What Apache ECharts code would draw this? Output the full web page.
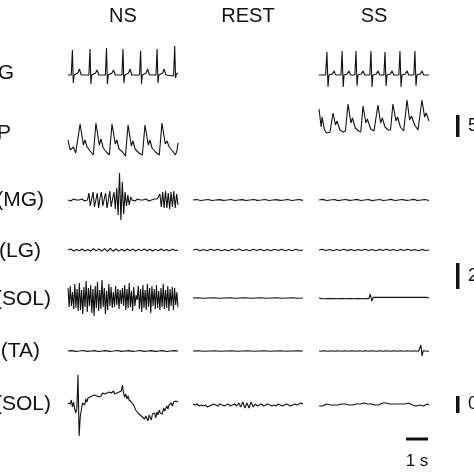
<!DOCTYPE html>
<html><head><meta charset="utf-8">
<script src="https://cdn.jsdelivr.net/npm/echarts@6/dist/echarts.min.js"></script>
<style>html,body{margin:0;padding:0;background:#fff}#c{width:474px;height:474px}</style>
</head><body><div id="c"></div>
<script>
const conditions = ['NS','REST','SS'];
const rowLabels = ['ECG','BP','EMG (MG)','EMG (LG)','EMG (SOL)','EMG (TA)','MMG (SOL)'];
const scaleLabels = ['50 mmHg','2 mV','0.5 V'];
const timeLabel = '1 s';

const ecgNS = [[0,0],[0.15,0],[0.2,25],[0.24,-8],[0.28,0],[0.45,2],[0.52,6],[0.6,0],
[0.95,0],[1.0,26],[1.04,-9],[1.08,0],[1.25,2],[1.32,5],[1.4,0],
[1.7,0],[1.75,27],[1.79,-9],[1.83,0],[2.0,2],[2.07,5],[2.15,0],
[2.45,0],[2.5,26],[2.54,-8],[2.58,0],[2.75,2],[2.82,6],[2.9,0],
[3.25,0],[3.3,24],[3.34,-9],[3.38,0],[3.55,2],[3.62,6],[3.7,0],
[4.0,0],[4.05,26],[4.09,-8],[4.13,0],[4.3,2],[4.37,6],[4.45,0],
[4.8,-1],[4.85,29],[4.89,-3],[4.93,1],[5.0,2]];
const ecgSS = [[0,0],[0.3,0],[0.36,23],[0.41,-12],[0.45,0],[0.6,1],[0.68,4],[0.76,0],
[1.0,0],[1.05,24],[1.1,-12],[1.14,0],[1.28,1],[1.36,4],[1.44,0],
[1.63,0],[1.68,24],[1.73,-11],[1.77,0],[1.92,1],[2.0,4],[2.08,0],
[2.31,0],[2.36,24],[2.41,-12],[2.45,0],[2.6,1],[2.68,4],[2.76,0],
[2.95,0],[3.0,23],[3.05,-11],[3.09,0],[3.24,1],[3.32,4],[3.4,0],
[3.63,0],[3.68,24],[3.73,-12],[3.77,0],[3.92,1],[4.0,4],[4.08,0],
[4.31,0],[4.36,24],[4.41,-11],[4.45,0],[4.6,1],[4.68,4],[4.76,0],[5.0,0]];
const bpNS = [[0,25],[0.1,15],[0.25,18],[0.35,12],[0.43,10],[0.55,41],[0.7,20],[0.77,25],[0.87,18],[1.0,14],[1.15,10],[1.27,42],[1.42,20],[1.5,26],[1.6,17],[1.75,13],[1.88,10],[2.0,41],[2.15,21],[2.22,25],[2.32,16],[2.48,13],[2.61,9],[2.73,40],[2.88,19],[2.95,24],[3.05,16],[3.22,12],[3.38,10],[3.5,40],[3.65,20],[3.72,25],[3.82,17],[3.98,13],[4.15,10],[4.27,42],[4.42,21],[4.5,24],[4.6,18],[4.75,14],[4.88,10],[4.95,14],[5.0,22]];
const bpSS = [[0,56],[0.1,38],[0.14,48],[0.25,35],[0.35,32],[0.5,33],[0.64,52],[0.75,40],[0.82,44],[0.95,35],[1.1,33],[1.2,34],[1.32,61],[1.45,42],[1.52,47],[1.65,37],[1.8,34],[1.9,33],[2.0,59],[2.13,42],[2.2,46],[2.35,36],[2.5,34],[2.58,34],[2.68,60],[2.8,42],[2.88,47],[3.0,38],[3.15,35],[3.25,35],[3.36,61],[3.5,44],[3.57,48],[3.7,38],[3.85,34],[3.92,35],[4.0,65],[4.12,45],[4.2,49],[4.35,40],[4.5,35],[4.58,36],[4.68,65],[4.8,48],[4.87,52],[5.0,44]];
const mgNS = [0,1,-1,0,1,-1,0,1,0,-1,1,0,-1,1,0,7,-6,1,8,-7,0,7,-8,2,8,-6,1,7,-8,0,9,-7,1,8,-9,12,-15,27,-20,18,-14,8,-6,5,-5,3,0,1,-1,0,1,-1,0,1,0,-1,1,0,-1,1,0,-1,1,0,1,-1,6,-7,8,-8,9,-8,7,-9,8,-7,9,-8,6,-5];
const mgREST = [0,0.5,-0.5,0,0.5,-0.5,0,0.4,-0.4,0,0.5,-0.5,0,0.4,-0.5,0,0.5,-0.4,0,0.5,-0.5,0,0.4,-0.4,0,0.5,-0.5,0,0.5,-0.4];
const mgSS = [0,0.6,-0.5,0,0.5,-0.6,0,0.5,-0.4,0,0.6,-0.5,0,0.5,-0.6,0,0.5,-0.5,0,0.6,-0.5,0,0.5,-0.4,0,0.6,-0.5,0,0.5,-0.5];
const lgNS = [0,1,-1,0.5,-0.8,1,-1,0.6,-1,1.2,-0.9,1,-1.2,1.4,-1.3,1.5,-1.2,1,-1.1,0.8,-1,1,-0.7,0.9,-1,0.8,-0.9,1,-0.8,0.7,-1,0.9,-0.8,1,-0.7,0.6,-0.9,0.8,-0.6,0];
const lgREST = [0,0.8,-0.7,0.6,-0.8,0.7,-0.6,0.8,-0.7,0.5,-0.8,0.7,-0.6,0.9,-0.7,0.6,-0.8,0.7,-0.6,0.8,-0.7,0.6,-0.8,0.7,-0.6,0.8,-0.7,0.6,-0.8,0.7,-0.5,0];
const lgSS = [0,0.7,-0.6,0.6,-0.7,0.6,-0.6,0.7,-0.6,0.5,-0.7,0.6,-0.6,0.7,-0.6,0.6,-0.7,0.6,-0.5,0.7,-0.6,0.6,-0.7,0.6,-0.6,0.7,-0.6,0.5,-0.7,0.6,-0.5,0];
const solNS = [10,-9,12,-8,6,-11,14,-10,9,-13,15,-12,8,-16,11,-9,17,-14,10,-8,13,-15,9,-18,12,-10,16,-13,8,-11,18,-9,10,-16,7,-12,14,-8,11,-10,6,-9,12,-7,9,-11,8,-6,10,-8,13,-12,9,-10,15,-9,7,-13,11,-8,3,-2,12,-11,9,-14,13,-10,8,-12,14,-9,10,-15,12,-8,9,-11,13,-10,7,-12,10,-9,14,-11,8,-10,12,-13,9,-8,11,-12,10,-7,6,-9];
const solREST = [0,0.3,-0.3,0,0.3,-0.3,0,0.3,-0.3,0,0.3,-0.3,0,0.3,-0.3,0,0.3,-0.3,0,0.3,-0.3,0];
const solSS = [0,0.7,-0.6,0.6,-0.7,0.6,-0.6,0.7,-0.6,0.7,-0.6,0.6,-0.7,0.6,-0.6,0.7,-0.6,0.6,-0.7,0.6,-0.6,0.7,-0.6,0.6,-0.7,0.6,-0.6,0.7,-0.6,0.6,-0.7,0.6,-0.6,0.7,-0.6,4,-3,0.7,-0.6,0.6,-0.7,0.6,-0.6,0.7,-0.6,0.6,-0.7,0.6,-0.6,0.7,-0.6,0.6,-0.7,0.6,-0.6,0.7,-0.6,0.6,-0.7,0.6,-0.6,0.7,-0.6,0.6,-0.7,0.6,-0.6,0.7,-0.6,0.6,-0.7,0.6,-0.6,0.7,-0.6,0];
const taNS = [0,0.4,-0.4,0,0.5,-0.4,0,0.4,-0.5,0,0.4,-0.4,0,0.5,-0.4,0,0.4,-0.4,0,0.5,-0.4,0,0.4,-0.4,0,0.4,-0.5,0,0.4,0];
const taREST = [0,0.3,-0.3,0,0.3,-0.3,0,0.3,-0.3,0,0.3,-0.3,0,0.3,-0.3,0,0.3,-0.3,0,0.3,0];
const taSS = [0,0.3,-0.3,0,0.3,-0.3,0,0.3,-0.3,0,0.3,-0.3,0,0.3,-0.3,0,0.3,-0.3,0,0.3,-0.3,0,0.3,-0.3,0,0.3,-0.3,0,0.3,-0.3,0,0.3,-0.3,0,0.3,-0.3,0,0.3,-0.3,0,0.3,-0.3,0,0.3,-0.3,0,0.3,-0.3,0,0.3,-0.3,0,0.3,-0.3,0,0.3,-0.3,0,0.3,-0.3,0,0.3,-0.3,0,0.3,-0.3,0,0.3,-0.3,0,0.3,-0.3,0,0.3,-0.3,0,0.3,-0.3,0,0.3,-0.3,0,0.3,-0.3,0,0.3,-0.3,0,6,-5,0.3,-0.3,0,0.3,-0.3,0];
const mmgNS = [2,4,1,5,-2,3,-4,-8,-3,30,-31,-12,-5,2,4,0,6,3,7,5,8,6,9,7,10,8,9,11,8,10,9,12,10,11,9,12,10,13,11,12,10,14,11,13,12,10,13,11,14,20,12,8,11,6,9,5,7,3,4,0,-2,-5,-3,-8,-6,-10,-8,-12,-10,-14,-11,-13,-16,-10,-12,-15,-9,-11,-8,-13,-7,-10,-5,-8,-6,-9,-3,-6,-4,-1,-4,0,-2,2,-1,3,1,4,2,3];
const mmgREST = [1,0,1,-1,0,-1,0,-2,-1,0,1,0,-1,1,0,-1,0,1,-1,0,1,-1,2,-2,3,-3,2,-3,3,-2,1,-1,0,1,-1,0,1,0,-1,0,-1,1,0,-1,0,1,0,-1,0,1,0,1,2,1];
const mmgSS = [-1,0,-1,0,1,-1,0,-1,0,1,0,-1,1,0,1,-1,0,1,0,-1,1,0,1,0,2,0,1,0,1,-1,0,1,0,1,2,1,2,0,1,2,1,2,1,3,1,2,1,0,2,1,0,1,-1,1,0,1,-1,0,1,0];

const traces = [
  [ecgNS, null, ecgSS],
  [bpNS, null, bpSS],
  [mgNS, mgREST, mgSS],
  [lgNS, lgREST, lgSS],
  [solNS, solREST, solSS],
  [taNS, taREST, taSS],
  [mmgNS, mmgREST, mmgSS]
];

const colLeft = [68, 193, 319];
const colWidth = 110;
const rows = [
  {top:40, h:50, min:-15, max:35, ly:73},
  {top:95, h:70, min:0, max:70, ly:133},
  {top:170, h:60, min:-30, max:30, ly:200},
  {top:235, h:30, min:-15, max:15, ly:251},
  {top:270, h:56, min:-28, max:28, ly:299},
  {top:336, h:30, min:-15, max:15, ly:351},
  {top:370, h:70, min:-35, max:35, ly:404}
];
const labelRight = [14, 11, 44, 41, 51, 40, 51];

const grid=[], xAxis=[], yAxis=[], series=[];
rows.forEach((r,ri)=>{
  colLeft.forEach((cl,ci)=>{
    const idx = grid.length;
    grid.push({left:cl, width:colWidth, top:r.top, height:r.h});
    xAxis.push({gridIndex:idx, type:'value', min:0, max:5, show:false});
    yAxis.push({gridIndex:idx, type:'value', min:r.min, max:r.max, show:false});
    const d = traces[ri][ci];
    if (d) {
      const pts = Array.isArray(d[0]) ? d : d.map((v,i)=>[i*5/(d.length-1), v]);
      series.push({type:'line', xAxisIndex:idx, yAxisIndex:idx, data:pts, showSymbol:false,
        lineStyle:{color:'#111', width:1.1}, silent:true, animation:false});
    }
  });
});

const font = '"Liberation Sans", Arial, sans-serif';
const graphic = [];
conditions.forEach((c,i)=>graphic.push({type:'text', x:colLeft[i]+colWidth/2, y:16,
  style:{text:c, font:'20px '+font, fill:'#111', textAlign:'center', textVerticalAlign:'middle'}}));
rowLabels.forEach((t,i)=>graphic.push({type:'text', x:labelRight[i], y:rows[i].ly,
  style:{text:t, font:'21px '+font, fill:'#111', textAlign:'right', textVerticalAlign:'middle'}}));
const bars = [[115,137],[263,289],[396,413]];
bars.forEach((b,i)=>{
  graphic.push({type:'rect', shape:{x:456, y:b[0], width:3.5, height:b[1]-b[0]}, style:{fill:'#111'}});
  graphic.push({type:'text', x:468, y:(b[0]+b[1])/2, style:{text:scaleLabels[i], font:'18px '+font, fill:'#111', textVerticalAlign:'middle'}});
});
graphic.push({type:'rect', shape:{x:406, y:437.5, width:22, height:3}, style:{fill:'#111'}});
graphic.push({type:'text', x:417, y:461, style:{text:timeLabel, font:'17px '+font, fill:'#111', textAlign:'center', textVerticalAlign:'middle'}});

const chart = echarts.init(document.getElementById('c'), null, {renderer:'canvas'});
chart.setOption({animation:false, grid, xAxis, yAxis, series, graphic});
</script></body></html>
